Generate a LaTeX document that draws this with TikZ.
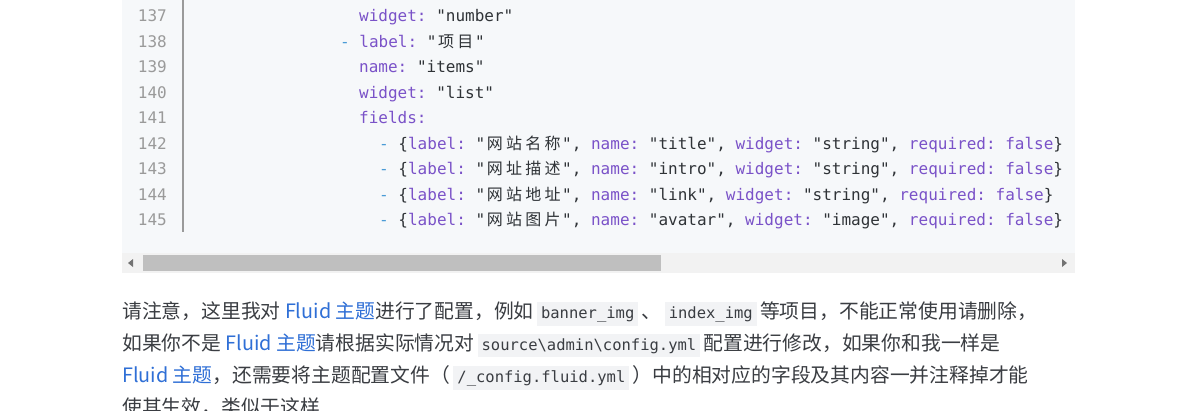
\documentclass[tikz,border=0pt]{standalone}
\usepackage{fontspec}
\setmonofont{DejaVu Sans Mono}
\newfontfamily\cjk{Noto Sans CJK SC}
\usepackage{xcolor}
\definecolor{codebg}{HTML}{F6F8FA}
\definecolor{kw}{HTML}{7A52C8}
\definecolor{dash}{HTML}{4A9BD6}
\definecolor{str}{HTML}{2F3337}
\definecolor{lnum}{HTML}{9A9A9A}
\definecolor{txt}{HTML}{3A3D42}
\definecolor{lnk}{HTML}{2F6FD6}
\definecolor{icbg}{HTML}{F2F3F5}
\newcommand\cj[1]{\makebox[19.26pt]{\cjk #1}}
\newcommand\K[1]{\textcolor{kw}{#1}}
\newcommand\D{\textcolor{dash}{-}}
\newcommand\ic[1]{{\setlength\fboxsep{4pt}\colorbox{icbg}{\fontsize{15.5}{17}\selectfont\ttfamily\textcolor{txt}{#1}}}}
\newcommand\lk[1]{\textcolor{lnk}{#1}}
\begin{document}
\begin{tikzpicture}[x=1pt,y=-1pt,
  code/.style={anchor=base west,inner sep=0pt,font=\fontsize{16}{18}\selectfont\ttfamily,text=str},
  num/.style={anchor=base east,inner sep=0pt,font=\fontsize{16}{18}\selectfont\ttfamily,text=lnum},
  para/.style={anchor=base west,inner sep=0pt,font=\fontsize{19.8}{22}\selectfont\cjk,text=txt}]
\useasboundingbox (0,0) rectangle (1190,410);
\clip (0,0) rectangle (1190,410);
\fill[white] (0,0) rectangle (1190,410);
\fill[codebg] (122,0) rectangle (1075,273);
\fill[black!5] (122,253) rectangle (1075,273);
\fill[black!25] (143,255) rectangle (661,271);
\fill[black!55] (128,263) -- (133,259) -- (133,267) -- cycle;
\fill[black!55] (1062,259) -- (1067,263) -- (1062,267) -- cycle;
\draw[lnum,line width=1.2pt] (183,0) -- (183,232);
\foreach \n/\y in {137/21,138/47,139/72,140/98,141/123,142/149,143/174,144/200,145/225}
  \node[num] (n\n) at (167,\y) {\n};
\node[code] (l137) at (359,21) {\K{widget:} "number"};
\node[code] (l138) at (340,47) {\D{} \K{label:} "\cj{项}\cj{目}"};
\node[code] (l139) at (359,72) {\K{name:} "items"};
\node[code] (l140) at (359,98) {\K{widget:} "list"};
\node[code] (l141) at (359,123) {\K{fields:}};
\node[code] (l142) at (379,149) {\D{} \{\K{label:} "\cj{网}\cj{站}\cj{名}\cj{称}", \K{name:} "title", \K{widget:} "string", \K{required:} \K{false}\}};
\node[code] (l143) at (379,174) {\D{} \{\K{label:} "\cj{网}\cj{址}\cj{描}\cj{述}", \K{name:} "intro", \K{widget:} "string", \K{required:} \K{false}\}};
\node[code] (l144) at (379,200) {\D{} \{\K{label:} "\cj{网}\cj{站}\cj{地}\cj{址}", \K{name:} "link", \K{widget:} "string", \K{required:} \K{false}\}};
\node[code] (l145) at (379,225) {\D{} \{\K{label:} "\cj{网}\cj{站}\cj{图}\cj{片}", \K{name:} "avatar", \K{widget:} "image", \K{required:} \K{false}\}};
\node[para] (p1) at (122,318) {请注意，这里我对 \lk{Fluid 主题}进行了配置，例如\,\ic{banner\_img}\,、\,\ic{index\_img}\,等项目，不能正常使用请删除，};
\node[para] (p2) at (122,350) {如果你不是 \lk{Fluid 主题}请根据实际情况对\,\ic{source\textbackslash admin\textbackslash config.yml}\,配置进行修改，如果你和我一样是};
\node[para] (p3) at (122,382) {\lk{Fluid 主题}，还需要将主题配置文件（\,\ic{/\_config.fluid.yml}\,）中的相对应的字段及其内容一并注释掉才能};
\node[para] (p4) at (122,414) {使其生效，类似于这样};
\end{tikzpicture}
\end{document}
